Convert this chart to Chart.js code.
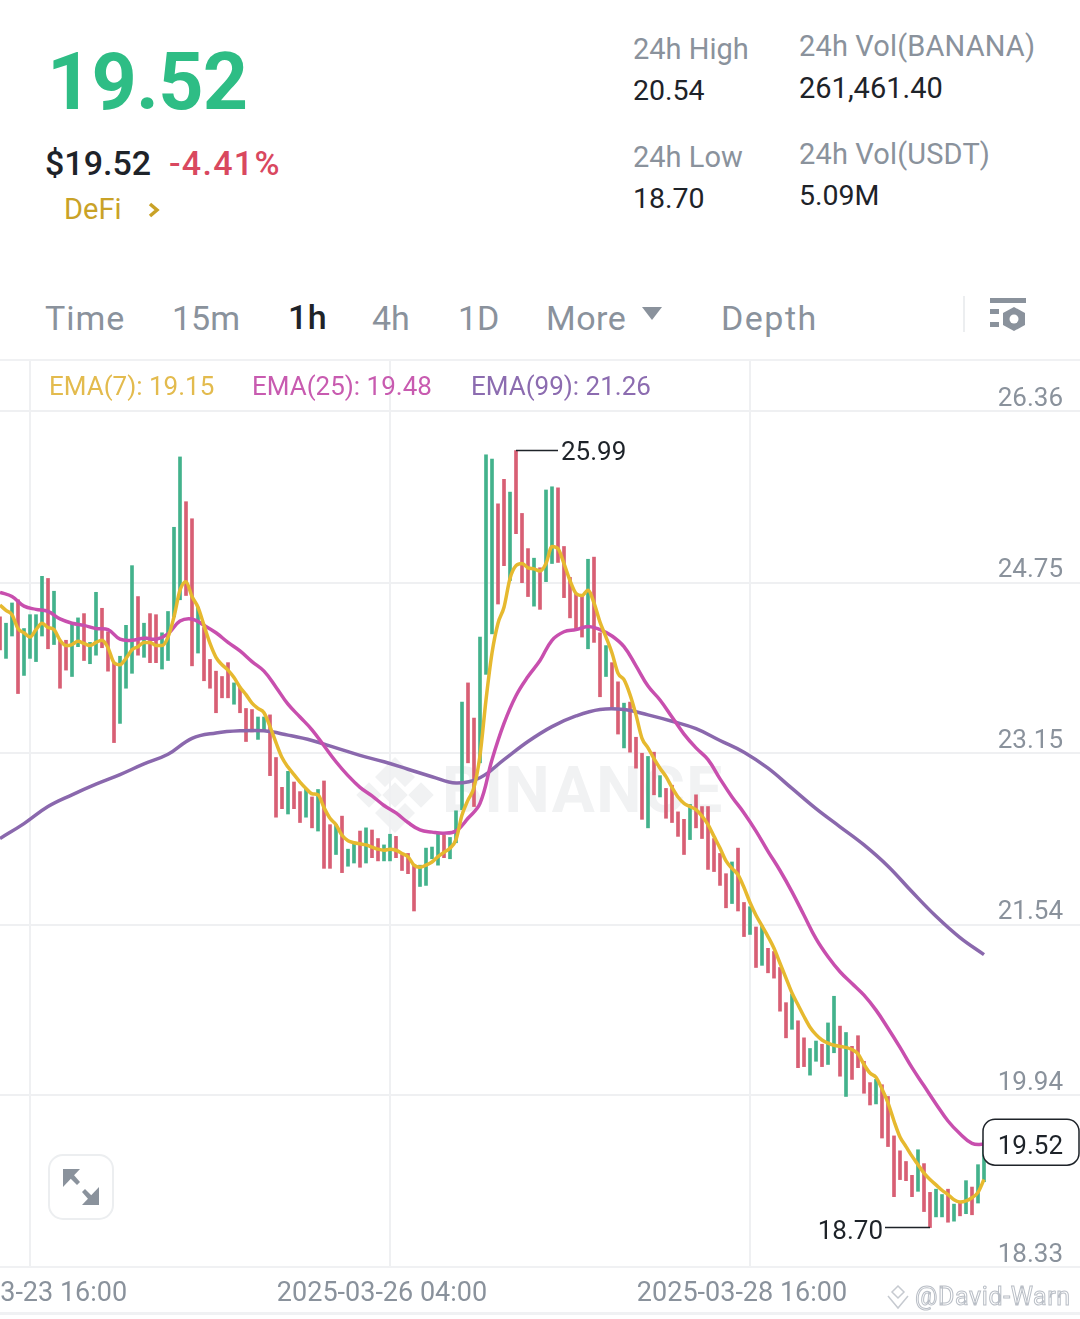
<!DOCTYPE html>
<html>
<head>
<meta charset="utf-8">
<style>
html, body { margin: 0; padding: 0; background: #fff; width: 1080px; height: 1319px; overflow: hidden; font-family: Roboto, sans-serif; }
.t { position: absolute; white-space: nowrap; line-height: 1; }
.gray { color: #8a929c; }
.dark { color: #1e2329; }
.line { position: absolute; left: 0; width: 1080px; height: 2px; background: #f0f1f3; }
#wrap { position: absolute; left: 0; top: 361px; width: 1080px; height: 958px; }
</style>
</head>
<body>
<div class="t" style="left:47px;top:43px;font-size:79px;font-weight:700;color:#2ebd85;letter-spacing:-0.8px">19.52</div>
<div class="t dark" style="left:45px;top:146px;font-size:34px;font-weight:500">$19.52</div>
<div class="t" style="left:169px;top:146px;font-size:34px;font-weight:500;color:#d9485f;letter-spacing:1.3px">-4.41%</div>
<div class="t" style="left:64px;top:195px;font-size:29px;color:#c9a227">DeFi</div>
<svg style="position:absolute;left:146px;top:201px" width="16" height="18"><path d="M4 3 L11 9 L4 15" fill="none" stroke="#c9a227" stroke-width="3.5"/></svg>

<div class="t gray" style="left:633px;top:35px;font-size:29px">24h High</div>
<div class="t dark" style="left:633px;top:77px;font-size:28.5px">20.54</div>
<div class="t gray" style="left:633px;top:143px;font-size:29px">24h Low</div>
<div class="t dark" style="left:633px;top:185px;font-size:28.5px">18.70</div>
<div class="t gray" style="left:799px;top:32px;font-size:29px;letter-spacing:0.15px">24h Vol(BANANA)</div>
<div class="t dark" style="left:799px;top:74px;font-size:29px">261,461.40</div>
<div class="t gray" style="left:799px;top:140px;font-size:29px;letter-spacing:0.15px">24h Vol(USDT)</div>
<div class="t dark" style="left:799px;top:182px;font-size:28.5px">5.09M</div>

<div class="t gray" style="left:45px;top:301px;font-size:34px;letter-spacing:1px">Time</div>
<div class="t gray" style="left:172px;top:301px;font-size:34px">15m</div>
<div class="t dark" style="left:288px;top:300px;font-size:34px;font-weight:500;letter-spacing:0.5px">1h</div>
<div class="t gray" style="left:372px;top:301px;font-size:34px">4h</div>
<div class="t gray" style="left:458px;top:301px;font-size:34px">1D</div>
<div class="t gray" style="left:546px;top:301px;font-size:34px;letter-spacing:0.5px">More</div>
<svg style="position:absolute;left:641px;top:306px" width="22" height="15"><path d="M1 1 H21 L11 14 Z" fill="#8a929c"/></svg>
<div class="t gray" style="left:721px;top:301px;font-size:34px;letter-spacing:1.5px">Depth</div>
<div style="position:absolute;left:963px;top:296px;width:2px;height:36px;background:#eceef0"></div>
<svg style="position:absolute;left:989px;top:296px" width="38" height="38">
  <rect x="1" y="2" width="36" height="5" fill="#8a929c"/>
  <rect x="1" y="13" width="9" height="5" fill="#8a929c"/>
  <rect x="1" y="26" width="9" height="5" fill="#8a929c"/>
  <path d="M25 11 L36 17 V29 L25 35 L14 29 V17 Z" fill="#8a929c"/>
  <circle cx="25" cy="23" r="4.5" fill="#fff"/>
</svg>

<div class="line" style="top:359px"></div>
<div class="line" style="top:1312px;height:3px"></div>

<!-- faint exchange mark behind the plot -->
<svg style="position:absolute;left:355px;top:755px" width="80" height="80" viewBox="0 0 80 80">
  <g fill="#f1f2f3">
    <path d="M40 2 L60 22 L50 32 L40 22 L30 32 L20 22 Z"/>
    <path d="M40 78 L60 58 L50 48 L40 58 L30 48 L20 58 Z"/>
    <rect x="31" y="31" width="18" height="18" transform="rotate(45 40 40)"/>
    <rect x="5" y="31" width="18" height="18" transform="rotate(45 14 40)"/>
    <rect x="57" y="31" width="18" height="18" transform="rotate(45 66 40)"/>
  </g>
</svg>
<div class="t" style="left:442px;top:759px;font-size:64px;font-weight:700;color:#f1f2f3;letter-spacing:1.5px">BINANCE</div>

<div id="wrap"><canvas id="chart1" width="1080" height="958"></canvas></div>

<div class="t" style="left:49px;top:373px;font-size:26px;color:#e3bb4e">EMA(7): 19.15</div>
<div class="t" style="left:252px;top:373px;font-size:26px;color:#c85bb0">EMA(25): 19.48</div>
<div class="t" style="left:471px;top:373px;font-size:26px;color:#8c6cb0">EMA(99): 21.26</div>

<div style="position:absolute;left:48px;top:1154px;width:62px;height:62px;border:2px solid #eceef0;border-radius:15px;background:#fff"></div>
<svg style="position:absolute;left:60px;top:1166px" width="42" height="42">
  <path d="M3 3 H20 L3 21 Z" fill="#8a929c"/>
  <path d="M13 8 L20 16 L17 19 L9 11 Z" fill="#8a929c"/>
  <path d="M39 39 H22 L39 21 Z" fill="#8a929c"/>
  <path d="M29 34 L22 26 L25 23 L33 31 Z" fill="#8a929c"/>
</svg>

<svg style="position:absolute;left:884px;top:1284px" width="28" height="28"><path d="M14 2 L20 8 L14 14 L8 8 Z M4 12 L14 24 L24 12" fill="none" stroke="#c6cad0" stroke-width="1.5"/></svg>
<div class="t" style="left:915px;top:1284px;font-size:25px;color:#fff;-webkit-text-stroke:1px #b9bec6;letter-spacing:0.6px">@David-Warn</div>

<script src="https://cdn.jsdelivr.net/npm/chart.js@4"></script>
<script>
var priceTicks = [18.33, 19.94, 21.54, 23.15, 24.75, 26.36];
var timeLabels = ['2025-03-23 16:00', '2025-03-26 04:00', '2025-03-28 16:00'];
var timeIndex = [5, 65, 125];

var highs = [
    24.43, 24.37, 24.56, 24.59, 24.32, 24.45, 24.45, 24.81, 24.79, 24.67,
    24.21, 24.21, 24.37, 24.42, 24.46, 24.19, 24.66, 24.51, 24.29, 24.00,
    24.06, 24.35, 24.91, 24.62, 24.37, 24.46, 24.45, 24.28, 24.48, 25.27,
    25.93, 25.51, 25.35, 24.52, 24.33, 24.03, 23.92, 23.87, 24.00, 23.81,
    23.77, 23.57, 23.56, 23.49, 23.49, 23.51, 23.11, 22.83, 22.98, 22.88,
    22.79, 22.82, 22.74, 22.81, 22.89, 22.48, 22.48, 22.56, 22.25, 22.31,
    22.42, 22.45, 22.43, 22.35, 22.29, 22.39, 22.37, 22.20, 22.21, 22.10,
    22.10, 22.26, 22.27, 22.41, 22.38, 22.36, 22.61, 23.63, 23.81, 23.48,
    24.24, 25.95, 25.91, 25.49, 25.72, 25.60, 25.99, 25.40, 25.07, 24.98,
    24.89, 25.62, 25.65, 25.64, 25.09, 24.80, 24.65, 24.62, 24.97, 24.99,
    24.28, 24.16, 24.00, 23.82, 23.62, 23.63, 23.30, 23.15, 23.12, 23.16,
    22.94, 22.82, 22.85, 22.60, 22.53, 22.67, 22.76, 22.65, 22.65, 22.35,
    22.21, 22.02, 22.13, 22.26, 21.75, 21.71, 21.52, 21.53, 21.32, 21.29,
    21.14, 20.81, 20.89, 20.64, 20.48, 20.38, 20.45, 20.42, 20.62, 20.87,
    20.59, 20.53, 20.40, 20.50, 20.26, 20.06, 20.09, 20.04, 19.93, 19.56,
    19.42, 19.32, 19.19, 19.43, 19.30, 19.03, 19.06, 19.01, 19.06, 18.92,
    18.93, 19.14, 19.08, 19.29, 19.52
];
var lows = [
    24.12, 24.04, 24.25, 23.71, 23.88, 24.04, 24.01, 24.25, 24.13, 24.17,
    23.76, 23.93, 23.87, 24.15, 24.02, 23.99, 24.07, 24.14, 23.92, 23.25,
    23.43, 23.76, 23.90, 24.07, 24.05, 24.00, 24.00, 23.94, 24.02, 24.43,
    24.59, 24.63, 23.97, 24.09, 23.83, 23.76, 23.53, 23.67, 23.67, 23.61,
    23.53, 23.26, 23.35, 23.28, 23.36, 22.94, 22.55, 22.63, 22.58, 22.63,
    22.50, 22.55, 22.45, 22.42, 22.07, 22.07, 22.20, 22.03, 22.09, 22.12,
    22.08, 22.12, 22.17, 22.14, 22.14, 22.14, 22.17, 22.05, 22.02, 21.67,
    21.90, 21.91, 22.16, 22.10, 22.17, 22.16, 22.31, 22.62, 23.06, 22.65,
    23.06, 23.89, 24.27, 24.55, 24.91, 24.77, 25.21, 24.75, 24.62, 24.53,
    24.50, 24.76, 24.93, 24.94, 24.61, 24.42, 24.31, 24.24, 24.13, 24.19,
    23.68, 23.87, 23.58, 23.33, 23.20, 23.16, 23.01, 22.53, 22.45, 22.76,
    22.74, 22.54, 22.50, 22.37, 22.20, 22.34, 22.45, 22.35, 22.06, 22.04,
    21.91, 21.70, 21.74, 21.67, 21.43, 21.45, 21.14, 21.16, 21.09, 21.04,
    20.73, 20.48, 20.56, 20.20, 20.21, 20.13, 20.26, 20.21, 20.23, 20.34,
    20.12, 19.93, 20.09, 20.20, 19.96, 19.85, 19.86, 19.54, 19.46, 18.99,
    19.15, 19.14, 18.99, 19.04, 18.85, 18.70, 18.80, 18.80, 18.75, 18.76,
    18.81, 18.83, 18.82, 18.93, 19.13
];
// candles that closed up, everything else is red
var upCandles = [1, 2, 4, 5, 6, 7, 9, 12, 13, 15, 16, 20, 21, 22, 24, 27, 28, 29, 30, 33, 39, 43, 44, 48,
    51, 53, 56, 58, 59, 61, 64, 65, 70, 71, 72, 73, 75, 76, 77, 80, 81, 82, 85, 89, 91, 92, 98,
    101, 104, 108, 110, 115, 122, 125, 127, 132, 135, 136, 138, 139, 141, 146, 153, 156, 157,
    159, 161, 163, 164];

var ema7 = [
    24.54, 24.49, 24.45, 24.32, 24.28, 24.24, 24.31, 24.37, 24.33, 24.31,
    24.21, 24.16, 24.17, 24.20, 24.18, 24.16, 24.19, 24.21, 24.14, 24.00,
    23.98, 24.04, 24.12, 24.15, 24.19, 24.19, 24.16, 24.16, 24.24, 24.43,
    24.68, 24.76, 24.62, 24.52, 24.35, 24.18, 24.05, 23.98, 23.93, 23.86,
    23.77, 23.70, 23.62, 23.57, 23.53, 23.40, 23.25, 23.11, 23.02, 22.95,
    22.88, 22.82, 22.77, 22.76, 22.64, 22.54, 22.48, 22.38, 22.33, 22.31,
    22.30, 22.29, 22.27, 22.25, 22.24, 22.25, 22.24, 22.21, 22.18, 22.10,
    22.08, 22.10, 22.13, 22.18, 22.22, 22.26, 22.34, 22.57, 22.71, 22.83,
    23.13, 23.65, 24.09, 24.37, 24.52, 24.79, 24.91, 24.93, 24.89, 24.88,
    24.86, 24.93, 25.09, 25.07, 24.93, 24.77, 24.65, 24.63, 24.68, 24.56,
    24.38, 24.24, 24.09, 23.90, 23.84, 23.70, 23.51, 23.29, 23.20, 23.10,
    23.01, 22.93, 22.83, 22.74, 22.68, 22.65, 22.62, 22.56, 22.48, 22.37,
    22.26, 22.14, 22.07, 22.01, 21.89, 21.75, 21.63, 21.53, 21.43, 21.32,
    21.18, 21.04, 20.90, 20.79, 20.68, 20.58, 20.51, 20.46, 20.43, 20.41,
    20.40, 20.39, 20.37, 20.33, 20.23, 20.15, 20.11, 20.00, 19.87, 19.70,
    19.55, 19.46, 19.37, 19.29, 19.21, 19.15, 19.10, 19.05, 19.01, 18.96,
    18.94, 18.95, 18.98, 19.03, 19.15
];
// read every second candle
var ema25 = [
    24.66, 24.62, 24.53, 24.50, 24.48, 24.41, 24.37, 24.35, 24.32, 24.31,
    24.22, 24.21, 24.23, 24.22, 24.27, 24.39, 24.41, 24.35, 24.28, 24.19,
    24.11, 24.01, 23.92, 23.77, 23.61, 23.49, 23.37, 23.22, 23.07, 22.94,
    22.83, 22.75, 22.66, 22.59, 22.50, 22.43, 22.41, 22.40, 22.42, 22.54,
    22.68, 23.09, 23.43, 23.69, 23.87, 24.02, 24.21, 24.29, 24.31, 24.34,
    24.31, 24.25, 24.15, 23.97, 23.78, 23.65, 23.49, 23.33, 23.20, 23.09,
    22.91, 22.74, 22.59, 22.42, 22.23, 22.05, 21.85, 21.63, 21.41, 21.24,
    21.10, 20.99, 20.88, 20.74, 20.57, 20.39, 20.20, 20.03, 19.86, 19.70,
    19.58, 19.49, 19.48
];
// read every fourth candle
var ema99 = [
    22.35, 22.49, 22.65, 22.76, 22.86, 22.95, 23.05, 23.14, 23.29, 23.34,
    23.36, 23.36, 23.32, 23.27, 23.20, 23.13, 23.07, 23.00, 22.93, 22.87,
    22.92, 23.09, 23.26, 23.40, 23.50, 23.56, 23.56, 23.51, 23.45, 23.38,
    23.27, 23.16, 23.01, 22.82, 22.63, 22.46, 22.29, 22.09, 21.85, 21.62,
    21.42, 21.26
];

var lastPrice = 19.52;
var peakIndex = 86;
var troughIndex = 155;

function emaPoints(values, step) {
    return values.map(function (v, i) { return { x: i * step, y: v }; });
}

var candleData = lows.map(function (low, i) { return { x: i, y: [low, highs[i]] }; });
var candleColors = lows.map(function (low, i) { return upCandles.indexOf(i) >= 0 ? '#43b28c' : '#d85f74'; });

var priceMarks = {
    id: 'priceMarks',
    afterDatasetsDraw: function (chart) {
        var ctx = chart.ctx;
        var xs = chart.scales.x;
        var ys = chart.scales.y;
        ctx.save();
        ctx.font = '26px Roboto';
        ctx.fillStyle = '#1e2329';
        ctx.strokeStyle = '#1e2329';
        ctx.lineWidth = 1.5;
        ctx.textBaseline = 'middle';

        // highest candle
        var px = xs.getPixelForValue(peakIndex);
        var py = ys.getPixelForValue(highs[peakIndex]);
        ctx.beginPath();
        ctx.moveTo(px, py);
        ctx.lineTo(px + 42, py);
        ctx.stroke();
        ctx.textAlign = 'left';
        ctx.fillText(highs[peakIndex].toFixed(2), px + 45, py + 3);

        // lowest candle
        px = xs.getPixelForValue(troughIndex);
        py = ys.getPixelForValue(lows[troughIndex]);
        ctx.beginPath();
        ctx.moveTo(px, py);
        ctx.lineTo(px - 45, py);
        ctx.stroke();
        ctx.textAlign = 'right';
        ctx.fillText(lows[troughIndex].toFixed(2), px - 47, py + 5);

        // current price box
        py = ys.getPixelForValue(lastPrice);
        ctx.beginPath();
        ctx.roundRect(983, py - 21, 96, 46, 12);
        ctx.fillStyle = '#fff';
        ctx.fill();
        ctx.stroke();
        ctx.fillStyle = '#1e2329';
        ctx.textAlign = 'right';
        ctx.fillText(lastPrice.toFixed(2), 1063, py + 7);
        ctx.restore();
    }
};

var ctx1 = document.getElementById('chart1').getContext('2d');
var chart1 = new Chart(ctx1, {
    type: 'bar',
    data: {
        datasets: [
            {
                type: 'line',
                data: emaPoints(ema7, 1),
                borderColor: '#e6b92f',
                borderWidth: 3.5,
                pointRadius: 0,
                cubicInterpolationMode: 'monotone',
                order: 1
            },
            {
                type: 'line',
                data: emaPoints(ema25, 2),
                borderColor: '#c84fae',
                borderWidth: 3.5,
                pointRadius: 0,
                tension: 0.4,
                order: 2
            },
            {
                type: 'line',
                data: emaPoints(ema99, 4),
                borderColor: '#8a68ad',
                borderWidth: 3.5,
                pointRadius: 0,
                tension: 0.4,
                order: 3
            },
            {
                data: candleData,
                backgroundColor: candleColors,
                barThickness: 3,
                order: 4
            }
        ]
    },
    options: {
        responsive: false,
        animation: false,
        maintainAspectRatio: false,
        layout: { padding: 0 },
        plugins: { legend: { display: false }, tooltip: { enabled: false } },
        scales: {
            x: {
                type: 'linear',
                offset: false,
                min: 0,
                max: 180,
                afterBuildTicks: function (scale) {
                    scale.ticks = timeIndex.map(function (v) { return { value: v }; });
                },
                afterFit: function (scale) {
                    scale.paddingLeft = 0;
                    scale.paddingRight = 0;
                    scale.height = 52;
                },
                grid: { color: '#eff0f2', lineWidth: 2, drawTicks: false, offset: false },
                border: { color: '#f0f1f3', width: 2 },
                ticks: {
                    autoSkip: false,
                    maxRotation: 0,
                    padding: 11,
                    labelOffset: -8,
                    color: '#8a929c',
                    font: { family: 'Roboto', size: 27 },
                    callback: function (value, index) { return timeLabels[index]; }
                }
            },
            y: {
                position: 'right',
                min: 18.33,
                max: 26.83,
                afterBuildTicks: function (scale) {
                    scale.ticks = priceTicks.map(function (v) { return { value: v }; });
                },
                afterFit: function (scale) {
                    scale.width = 0;
                    scale.paddingTop = 0;
                    scale.paddingBottom = 0;
                },
                grid: { color: '#eff0f2', lineWidth: 2, drawTicks: false },
                border: { display: false },
                ticks: {
                    mirror: true,
                    padding: -17,
                    labelOffset: -12,
                    color: '#8a929c',
                    font: { family: 'Roboto', size: 26 },
                    callback: function (value) { return value.toFixed(2); }
                }
            }
        }
    },
    plugins: [priceMarks]
});
</script>
</body>
</html>
